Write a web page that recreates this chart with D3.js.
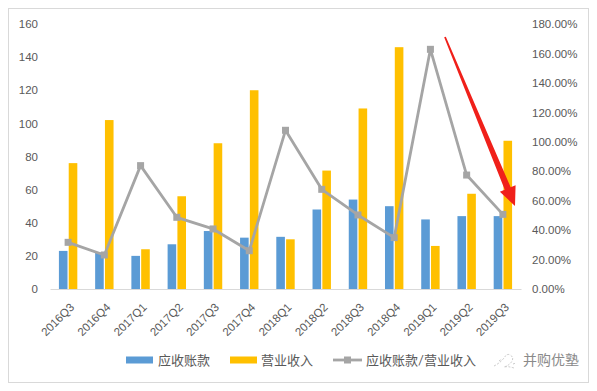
<!DOCTYPE html>
<html><head><meta charset="utf-8">
<script src="https://cdn.jsdelivr.net/npm/d3@7"></script>
<style>
html,body{margin:0;padding:0;background:#fff;}
svg{display:block;font-family:"Lato","Noto Sans CJK SC",sans-serif;}
</style></head>
<body><svg id="c" width="597" height="391"></svg>
<script>
const categories = ["2016Q3","2016Q4","2017Q1","2017Q2","2017Q3","2017Q4","2018Q1","2018Q2","2018Q3","2018Q4","2019Q1","2019Q2","2019Q3"];
const receivables = [23,22,20,27,35,31,31.5,48,54,50,42,44,44];
const revenue = [76,102,24,56,88,120,30,71.5,109,146,26,57.5,89.5];
const ratio = [0.317,0.231,0.838,0.487,0.408,0.26,1.078,0.677,0.503,0.349,1.628,0.774,0.507];
const leftTicks = [0,20,40,60,80,100,120,140,160];
const rightTicks = [0,0.2,0.4,0.6,0.8,1.0,1.2,1.4,1.6,1.8];
const seriesNames = ["应收账款","营业收入","应收账款/营业收入"];

const svg = d3.select("#c");
const blue = "#5B9BD5", yellow = "#FFC000", gray = "#A5A5A5", txt = "#595959";

svg.append("rect").attr("x",8.5).attr("y",8.5).attr("width",580).attr("height",374)
  .attr("fill","#fff").attr("stroke","#d9d9d9");

const x = d3.scaleBand().domain(categories).range([50,521]);
const yL = d3.scaleLinear().domain([0,160]).range([289,24]);
const yR = d3.scaleLinear().domain([0,1.8]).range([289,24]);

const axL = d3.axisLeft(yL).tickValues(leftTicks).tickSize(0).tickPadding(0);
svg.append("g").attr("transform","translate(38,0)").call(axL)
  .call(g=>g.select(".domain").remove())
  .selectAll("text").attr("fill",txt).attr("font-size",11.5);
const axR = d3.axisRight(yR).tickValues(rightTicks).tickSize(0).tickPadding(0).tickFormat(d3.format(".2%"));
svg.append("g").attr("transform","translate(532,0)").call(axR)
  .call(g=>g.select(".domain").remove())
  .selectAll("text").attr("fill",txt).attr("font-size",11.5);

const bw = 8.6;
svg.append("g").selectAll("rect").data(receivables).join("rect")
  .attr("x",(d,i)=>x(categories[i])+x.bandwidth()/2-bw-0.6)
  .attr("y",d=>yL(d)).attr("width",bw).attr("height",d=>yL(0)-yL(d)).attr("fill",blue);
svg.append("g").selectAll("rect").data(revenue).join("rect")
  .attr("x",(d,i)=>x(categories[i])+x.bandwidth()/2+0.6)
  .attr("y",d=>yL(d)).attr("width",bw).attr("height",d=>yL(0)-yL(d)).attr("fill",yellow);

const axB = d3.axisBottom(x).tickSize(0).tickPadding(0);
const gB = svg.append("g").attr("transform","translate(0,289)").call(axB);
gB.select(".domain").attr("stroke","#d9d9d9");
gB.selectAll("text").attr("fill",txt).attr("font-size",11.5)
  .attr("text-anchor","end").attr("dy","0.35em")
  .attr("transform","translate(4,16) rotate(-45)");

const cx = (d,i)=>x(categories[i])+x.bandwidth()/2;
svg.append("path").datum(ratio)
  .attr("d",d3.line().x(cx).y(d=>yR(d)))
  .attr("fill","none").attr("stroke",gray).attr("stroke-width",2.8).attr("stroke-linejoin","round");
svg.append("g").selectAll("rect").data(ratio).join("rect")
  .attr("x",(d,i)=>cx(d,i)-3.5).attr("y",d=>yR(d)-3.5).attr("width",7).attr("height",7).attr("fill",gray);

(function(){
  const s=[445,37], t=[515,206];
  const L=Math.hypot(t[0]-s[0],t[1]-s[1]);
  const u=[(t[0]-s[0])/L,(t[1]-s[1])/L], p=[u[1],-u[0]];
  const hl=19, hw=8.5, bw0=0.9, bw1=3.2;
  const b=[t[0]-u[0]*hl,t[1]-u[1]*hl];
  const pts=[
    [s[0]+p[0]*bw0,s[1]+p[1]*bw0],
    [b[0]+p[0]*bw1,b[1]+p[1]*bw1],
    [b[0]+p[0]*hw,b[1]+p[1]*hw],
    t,
    [b[0]-p[0]*hw,b[1]-p[1]*hw],
    [b[0]-p[0]*bw1,b[1]-p[1]*bw1],
    [s[0]-p[0]*bw0,s[1]-p[1]*bw0]];
  svg.append("polygon").attr("points",pts.map(q=>q.join(",")).join(" ")).attr("fill","#F0201A");
})();

const lg = svg.append("g").attr("font-size",13).attr("fill",txt);
lg.append("rect").attr("x",126).attr("y",356.5).attr("width",27).attr("height",7).attr("fill",blue);
lg.append("text").attr("x",158).attr("y",360).attr("dy","0.36em").attr("fill",txt).text(seriesNames[0]);
lg.append("rect").attr("x",230).attr("y",356.5).attr("width",27).attr("height",7).attr("fill",yellow);
lg.append("text").attr("x",261).attr("y",360).attr("dy","0.36em").attr("fill",txt).text(seriesNames[1]);
lg.append("line").attr("x1",333).attr("x2",362).attr("y1",360).attr("y2",360).attr("stroke",gray).attr("stroke-width",2.8);
lg.append("rect").attr("x",344).attr("y",356.5).attr("width",7).attr("height",7).attr("fill",gray);
lg.append("text").attr("x",366).attr("y",360).attr("dy","0.36em").attr("fill",txt).text(seriesNames[2]);

const wm = svg.append("g");
wm.append("path").attr("d","M494,366 q6,-3 10,-8 q3,-5 6,-3 q4,2 2,6 q-2,4 -8,6 q4,-1 10,1 M499,361 l3,-2 M513,364 l3,-1")
  .attr("fill","none").attr("stroke","#c8c8c8").attr("stroke-width",1).attr("stroke-dasharray","2,1.5");
wm.append("text").attr("x",523).attr("y",365).attr("font-size",14).attr("fill","#8a8a8a").text("并购优塾");
</script></body></html>
